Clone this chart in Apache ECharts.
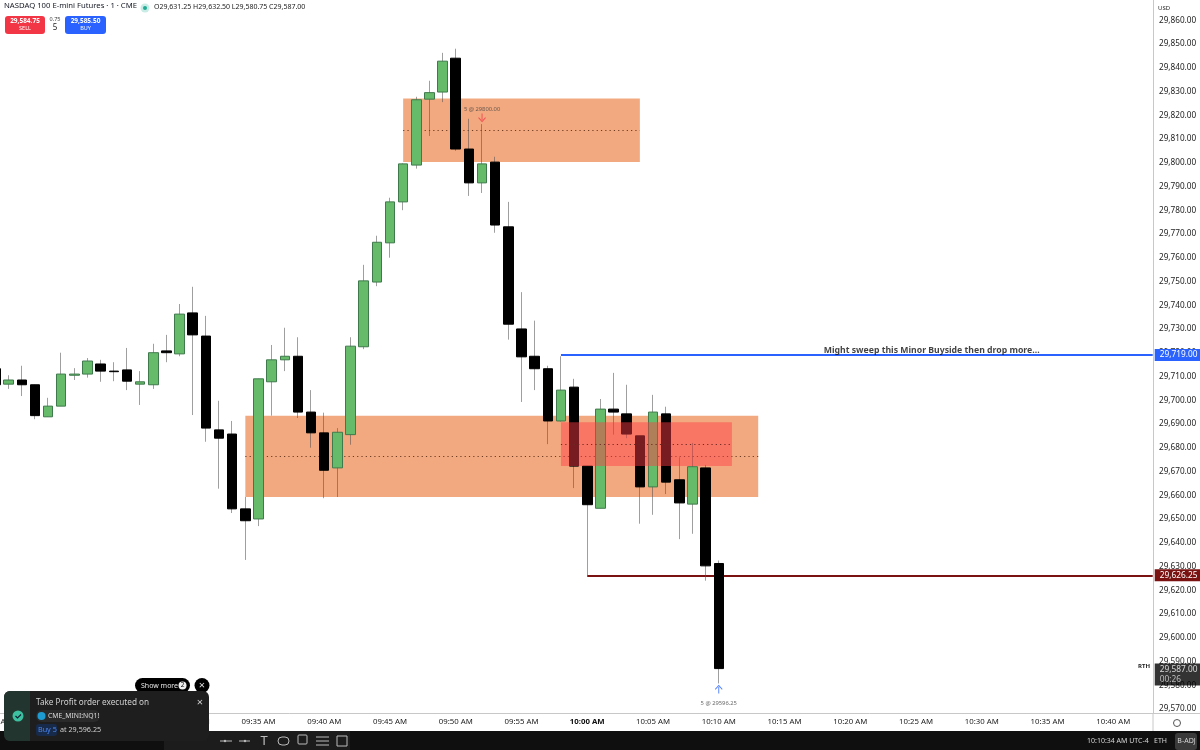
<!DOCTYPE html>
<html><head><meta charset="utf-8"><style>html,body{margin:0;padding:0;background:#fff}#c{width:1200px;height:750px}</style>
<script src="https://cdn.jsdelivr.net/npm/echarts@6/dist/echarts.min.js"></script></head>
<body><div id="c"></div>
<script>
const categories=["09:15","09:16","09:17","09:18","09:19","09:20","09:21","09:22","09:23","09:24","09:25","09:26","09:27","09:28","09:29","09:30","09:31","09:32","09:33","09:34","09:35","09:36","09:37","09:38","09:39","09:40","09:41","09:42","09:43","09:44","09:45","09:46","09:47","09:48","09:49","09:50","09:51","09:52","09:53","09:54","09:55","09:56","09:57","09:58","09:59","10:00","10:01","10:02","10:03","10:04","10:05","10:06","10:07","10:08","10:09","10:10","10:11","10:12","10:13","10:14","10:15","10:16","10:17","10:18","10:19","10:20","10:21","10:22","10:23","10:24","10:25","10:26","10:27","10:28","10:29","10:30","10:31","10:32","10:33","10:34","10:35","10:36","10:37","10:38","10:39","10:40","10:41","10:42","10:43"];
const timeTicks=["09:15","09:20","09:25","09:30","09:35","09:40","09:45","09:50","09:55","10:00","10:05","10:10","10:15","10:20","10:25","10:30","10:35","10:40"];
const priceTicks=[29570,29580,29590,29600,29610,29620,29630,29640,29650,29660,29670,29680,29690,29700,29710,29720,29730,29740,29750,29760,29770,29780,29790,29800,29810,29820,29830,29840,29850,29860];
const opens=[29713.25,29706.75,29708.5,29706.5,29693,29697.5,29710.5,29711,29715.25,29712.25,29712.75,29706.75,29706.5,29720.75,29719.5,29736.75,29727,29687.5,29685.75,29654.25,29650,29707.75,29717,29718.5,29695,29686.25,29671.5,29685.5,29722.5,29749.75,29766.25,29783.5,29799,29826.75,29829.75,29844,29805.75,29791.5,29800.25,29773,29730,29718.5,29713.25,29691.25,29705.5,29672.25,29654.5,29696.25,29694.25,29685,29663.5,29694.25,29666.5,29656.25,29671.5,29631.25];
const closes=[29706.5,29708.5,29706.5,29693.5,29697.5,29711,29711,29716.5,29712.25,29712,29708,29707.75,29720,29720,29736.25,29727.5,29688.25,29684,29654.25,29649.25,29709,29717,29718.5,29695,29686.25,29670.5,29686.5,29722.75,29750.25,29766.5,29783.5,29799.5,29826.5,29829.5,29842.75,29805.75,29791.5,29799.5,29773.75,29732,29718.25,29713.25,29691.25,29704.25,29672.25,29656,29696.25,29695,29685.75,29663.5,29695,29665.5,29656.75,29672,29630.25,29587];
const lows=[29704.25,29704.75,29701.75,29692,29693,29697.5,29708.5,29709.5,29707.75,29708,29704.25,29698,29704.75,29716,29718.5,29693.75,29682.5,29662.75,29652.5,29632.75,29647,29693.5,29712.25,29692.5,29680,29658.75,29659.25,29681.25,29721.5,29748,29760,29780,29797.5,29811.25,29825.5,29805,29786,29787.25,29770.5,29725.5,29699.25,29704.25,29681.5,29691,29663,29626.25,29654.5,29685.5,29684,29648,29651.75,29660.5,29641.5,29643.75,29624,29580.75];
const highs=[29717,29710.5,29714.5,29706.5,29701,29720,29713.5,29717.75,29717,29716,29722,29712.25,29723.75,29727.5,29740.5,29747.75,29735.5,29699.75,29691.25,29659.25,29709,29723.25,29730.5,29726.5,29704.25,29694.75,29688.25,29726.5,29757,29769.25,29785.25,29799.75,29827.75,29834.5,29846.25,29848,29818.5,29816.25,29802.5,29783.5,29745.5,29733.5,29714.5,29718.5,29709,29672.25,29700.5,29711.5,29706.5,29685,29702.25,29697.25,29676,29682,29672.75,29632.5];
const orangeZones=[["09:46","10:04",29827,29800.25,29813.5],["09:34","10:13",29693.5,29659.25,29676.5]];
const redZone=["09:58","10:11",29690.75,29672.25,29681.5];
const buySide=["09:58",29719,"29,719.00"];
const sellSide=["10:00",29626.25,"29,626.25"];
const note="Might sweep this Minor Buyside then drop more...";
const noteAnchor=["10:26",29719];
const lastPrice=29587;
const fills=[["09:52",29800,"5 @ 29800.00",29816.25],["10:10",29596.25,"5 @ 29596.25",29580.75]];
const F='"Noto Sans"';
const lastCat=categories[categories.length-1];
const zoneMid=(z,c)=>[{coord:[z[0],z[4]],lineStyle:{color:c,type:[1.2,3.1],width:1}},{coord:[z[1],z[4]]}];
const tag=(txt,bg)=>({show:true,position:'end',formatter:txt,distance:2,backgroundColor:bg,color:'#fff',fontFamily:F,fontSize:8.3,padding:[2,4,2,5]});
const opt={animation:false,backgroundColor:'#fff',
grid:{left:-11.1,right:40.7,top:0,bottom:37,containLabel:false,outerBoundsMode:'none'},
xAxis:{type:'category',data:categories,
 axisLine:{show:true,lineStyle:{color:'#c8c8c8',width:1}},axisTick:{show:false},splitLine:{show:false},
 axisLabel:{margin:5,fontFamily:F,fontSize:7.8,color:'#222',showMinLabel:true,hideOverlap:false,
  interval:(i,v)=>timeTicks.includes(v),
  formatter:v=>v==="10:00"?`{b|${v} AM}`:`${v} AM`,rich:{b:{fontFamily:F,fontSize:7.8,fontWeight:'bold',color:'#111'}}}},
yAxis:{type:'value',position:'right',offset:-6.3,min:29568.3,max:29868.5,scale:true,
 axisLine:{show:true,lineStyle:{color:'#c8c8c8',width:1}},axisTick:{show:false},splitLine:{show:false},
 axisLabel:{customValues:priceTicks,margin:6,padding:[2,0,0,0],fontFamily:F,fontSize:8.2,color:'#222',formatter:v=>v.toLocaleString('en-US',{minimumFractionDigits:2})}},
series:[
 {type:'line',name:'zones',z:1,data:[],silent:true,
  markArea:{silent:true,z:1,itemStyle:{color:'#f3a97f',opacity:1},data:orangeZones.map(z=>[{coord:[z[0],z[2]]},{coord:[z[1],z[3]]}])},
  markLine:{silent:true,z:1.5,symbol:'none',label:{show:false},data:[...orangeZones.map(z=>zoneMid(z,'#6d3b22')),
   [{coord:[sellSide[0],sellSide[1]],lineStyle:{color:'#7a1212',width:2,type:'solid'},label:tag(sellSide[2],'#7a1212')},{coord:[lastCat,sellSide[1]]}]]}},
 {type:'candlestick',name:'wicks',z:2,barWidth:1,silent:true,
  itemStyle:{color:'rgba(80,80,80,.55)',color0:'rgba(80,80,80,.55)',borderColor:'rgba(80,80,80,.55)',borderColor0:'rgba(80,80,80,.55)',borderWidth:1},
  data:opens.map((o,i)=>[o,closes[i],lows[i],highs[i]])},
 {type:'candlestick',name:'bodies',z:3,barWidth:10,silent:true,
  itemStyle:{color:'#66bb6a',color0:'#000000',borderColor:'#3f7a4c',borderColor0:'#000000',borderWidth:1},
  data:opens.map((o,i)=>[o,closes[i],Math.min(o,closes[i]),Math.max(o,closes[i])])},
 {type:'line',name:'overlay',z:4,data:[],silent:true,
  markArea:{silent:true,z:10,itemStyle:{color:'rgba(255,60,70,.47)'},data:[[{coord:[redZone[0],redZone[2]]},{coord:[redZone[1],redZone[3]]}]]},
  markLine:{silent:true,z:11,symbol:'none',animation:false,label:{show:false},data:[zoneMid(redZone,'#6d2a22'),
   [{coord:[buySide[0],buySide[1]],lineStyle:{color:'#2962ff',width:2,type:'solid'},label:tag(buySide[2],'#2962ff')},{coord:[lastCat,buySide[1]]}]
  ]}},
 {type:'scatter',name:'notes',z:12,clip:false,symbolSize:0,silent:true,data:[
   {value:noteAnchor,label:{show:true,position:'top',distance:0,offset:[2.5,0],formatter:note,fontFamily:F,fontSize:8.7,fontWeight:'bold',color:'#111'}},
   {value:[fills[0][0],fills[0][3]],symbol:'path://M5 0L5 8M1 5L5 10L9 5',symbolSize:[7,8],symbolOffset:[0,-6.5],itemStyle:{color:'transparent',borderColor:'#f23645',borderWidth:1},label:{show:true,position:'top',distance:0,offset:[0,-1],formatter:fills[0][2],fontFamily:F,fontSize:5.8,color:'#444'}},
   {value:[fills[1][0],fills[1][3]],symbol:'path://M5 10L5 2M1 5L5 0L9 5',symbolSize:[7,8],symbolOffset:[0,6],itemStyle:{color:'transparent',borderColor:'#2962ff',borderWidth:1},label:{show:true,position:'bottom',distance:0,offset:[0,6],formatter:fills[1][2],fontFamily:F,fontSize:5.8,color:'#444'}},
   {value:[lastCat,lastPrice],label:{show:true,position:'right',distance:2,offset:[0,6],formatter:'{a|29,587.00}\n{b|00:26}',backgroundColor:'#000',padding:[1,3,1,5],rich:{a:{color:'#fff',fontFamily:F,fontSize:8.3,lineHeight:10},b:{color:'#ddd',fontFamily:F,fontSize:8.3,lineHeight:10}}}}
 ]}
],
graphic:[
 {type:'line',shape:{x1:1153,y1:713.5,x2:1200,y2:713.5},style:{stroke:'#c8c8c8'},z:1},
 {type:'line',shape:{x1:1153,y1:713,x2:1153,y2:731},style:{stroke:'#c8c8c8'},z:1},
 {type:'text',left:4,top:2,style:{text:'NASDAQ 100 E-mini Futures · 1 · CME',fontFamily:F,fontSize:7.7,fill:'#131722'},z:50},
 {type:'circle',shape:{cx:145,cy:8,r:4.5},style:{fill:'#c9ece6'},z:50},{type:'circle',shape:{cx:145,cy:8,r:2},style:{fill:'#22ab94'},z:51},
 {type:'text',left:154,top:3,style:{text:'O29,631.25 H29,632.50 L29,580.75 C29,587.00',fontFamily:F,fontSize:7,fill:'#222'},z:50},
 {type:'rect',shape:{x:5,y:16,width:40,height:18,r:3},style:{fill:'#f23645'},z:50},
 {type:'text',x:25,y:21,style:{text:'29,584.75',align:'center',verticalAlign:'middle',fontFamily:F,fontSize:6.5,fontWeight:'bold',fill:'#fff'},z:51},
 {type:'text',x:25,y:28.5,style:{text:'SELL',align:'center',verticalAlign:'middle',fontFamily:F,fontSize:5.5,fill:'#fff'},z:51},
 {type:'text',x:55,y:19,style:{text:'0.75',align:'center',verticalAlign:'middle',fontFamily:F,fontSize:5.5,fill:'#444'},z:51},
 {type:'text',x:55,y:28,style:{text:'5',align:'center',verticalAlign:'middle',fontFamily:F,fontSize:8,fill:'#222'},z:51},
 {type:'rect',shape:{x:65,y:16,width:41,height:18,r:3},style:{fill:'#2962ff'},z:50},
 {type:'text',x:85.5,y:21,style:{text:'29,585.50',align:'center',verticalAlign:'middle',fontFamily:F,fontSize:6.5,fontWeight:'bold',fill:'#fff'},z:51},
 {type:'text',x:85.5,y:28.5,style:{text:'BUY',align:'center',verticalAlign:'middle',fontFamily:F,fontSize:5.5,fill:'#fff'},z:51},
 {type:'text',x:1158,y:8,style:{text:'USD',verticalAlign:'middle',fontFamily:F,fontSize:6,fill:'#222'},z:51},
 {type:'text',x:1150,y:666,style:{text:'RTH',align:'right',verticalAlign:'middle',fontFamily:F,fontSize:6,fontWeight:'bold',fill:'#222'},z:51},
 {type:'circle',shape:{cx:1177,cy:723,r:3.5},style:{fill:'none',stroke:'#555',lineWidth:1},z:51},
 {type:'rect',shape:{x:0,y:731,width:1200,height:19},style:{fill:'#0f0f0f'},z:60},
 {type:'text',x:1087,y:741,style:{text:'10:10:34 AM UTC-4',verticalAlign:'middle',fontFamily:F,fontSize:7,fill:'#d6d6d6'},z:61},
 {type:'text',x:1154,y:741,style:{text:'ETH',verticalAlign:'middle',fontFamily:F,fontSize:7,fill:'#d6d6d6'},z:61},
 {type:'rect',shape:{x:1175,y:733,width:22,height:17,r:3},style:{fill:'#3a3a3a'},z:61},
 {type:'text',x:1186.5,y:741,style:{text:'B-ADJ',align:'center',verticalAlign:'middle',fontFamily:F,fontSize:7,fill:'#d6d6d6'},z:62},
 {type:'rect',shape:{x:164,y:731,width:186,height:19},style:{fill:'#1c1c1c'},z:60},
 {type:'line',shape:{x1:220,y1:741,x2:232,y2:741},style:{stroke:'#bbb',lineWidth:1},z:61},
 {type:'circle',shape:{cx:225,cy:741,r:1.2},style:{fill:'#bbb'},z:61},
 {type:'line',shape:{x1:239,y1:741,x2:250,y2:741},style:{stroke:'#bbb',lineWidth:1},z:61},
 {type:'circle',shape:{cx:245,cy:741,r:1.2},style:{fill:'#bbb'},z:61},
 {type:'text',x:264,y:741,style:{text:'T',align:'center',verticalAlign:'middle',fontFamily:F,fontSize:13,fill:'#bbb'},z:61},
 {type:'rect',shape:{x:278,y:737,width:11,height:8,r:4},style:{fill:'none',stroke:'#bbb'},z:61},
 {type:'rect',shape:{x:298,y:735,width:9,height:9,r:1},style:{fill:'none',stroke:'#bbb'},z:61},
 {type:'line',shape:{x1:316,y1:737,x2:329,y2:737},style:{stroke:'#bbb'},z:61},
 {type:'line',shape:{x1:316,y1:741,x2:329,y2:741},style:{stroke:'#bbb'},z:61},
 {type:'line',shape:{x1:316,y1:745,x2:329,y2:745},style:{stroke:'#bbb'},z:61},
 {type:'rect',shape:{x:337,y:736,width:10,height:10},style:{fill:'none',stroke:'#bbb'},z:61},
 {type:'rect',shape:{x:135,y:678,width:55,height:15,r:7.5},style:{fill:'#000'},z:70},
 {type:'text',x:141,y:685.5,style:{text:'Show more',verticalAlign:'middle',fontFamily:F,fontSize:7,fill:'#e6e6e6'},z:71},
 {type:'circle',shape:{cx:182.5,cy:685.5,r:4},style:{fill:'#eee'},z:71},
 {type:'text',x:182.5,y:685.5,style:{text:'2',align:'center',verticalAlign:'middle',fontFamily:F,fontSize:6.5,fill:'#000'},z:72},
 {type:'circle',shape:{cx:202,cy:685.5,r:7.5},style:{fill:'#000'},z:70},
 {type:'text',x:202,y:685.5,style:{text:'×',align:'center',verticalAlign:'middle',fontFamily:F,fontSize:11,fill:'#ddd'},z:71},
 {type:'rect',shape:{x:4,y:691,width:205,height:50,r:6},style:{fill:'#1e1e1e'},z:70},
 {type:'rect',shape:{x:4,y:691,width:26,height:50,r:[6,0,0,6]},style:{fill:'#23352f'},z:71},
 {type:'circle',shape:{cx:18,cy:716,r:5.5},style:{fill:'#3cc0a0'},z:72},
 {type:'polyline',shape:{points:[[15.5,716],[17.5,718],[21,714.5]]},style:{fill:'none',stroke:'#123',lineWidth:1.2},z:73},
 {type:'text',x:36,y:703,style:{text:'Take Profit order executed on',verticalAlign:'middle',fontFamily:F,fontSize:8.2,fill:'#d0d0d0'},z:72},
 {type:'text',x:200,y:703,style:{text:'×',align:'center',verticalAlign:'middle',fontFamily:F,fontSize:11,fill:'#ccc'},z:72},
 {type:'rect',shape:{x:36,y:710,width:64,height:12,r:6},style:{fill:'#2a2a2a'},z:71},
 {type:'circle',shape:{cx:41.5,cy:716,r:4},style:{fill:'#1e9bd0'},z:72},
 {type:'text',x:48,y:716,style:{text:'CME_MINI:NQ1!',verticalAlign:'middle',fontFamily:F,fontSize:6.8,fill:'#ddd'},z:72},
 {type:'rect',shape:{x:36,y:724,width:21,height:12,r:3},style:{fill:'#172a4a'},z:71},
 {type:'text',x:38,y:730,style:{text:'Buy 5',verticalAlign:'middle',fontFamily:F,fontSize:7.2,fill:'#4a86f0'},z:72},
 {type:'text',x:60,y:730,style:{text:'at 29,596.25',verticalAlign:'middle',fontFamily:F,fontSize:7.2,fill:'#cfcfcf'},z:72}
]};
echarts.init(document.getElementById('c'),null,{renderer:'canvas'}).setOption(opt);
</script></body></html>
